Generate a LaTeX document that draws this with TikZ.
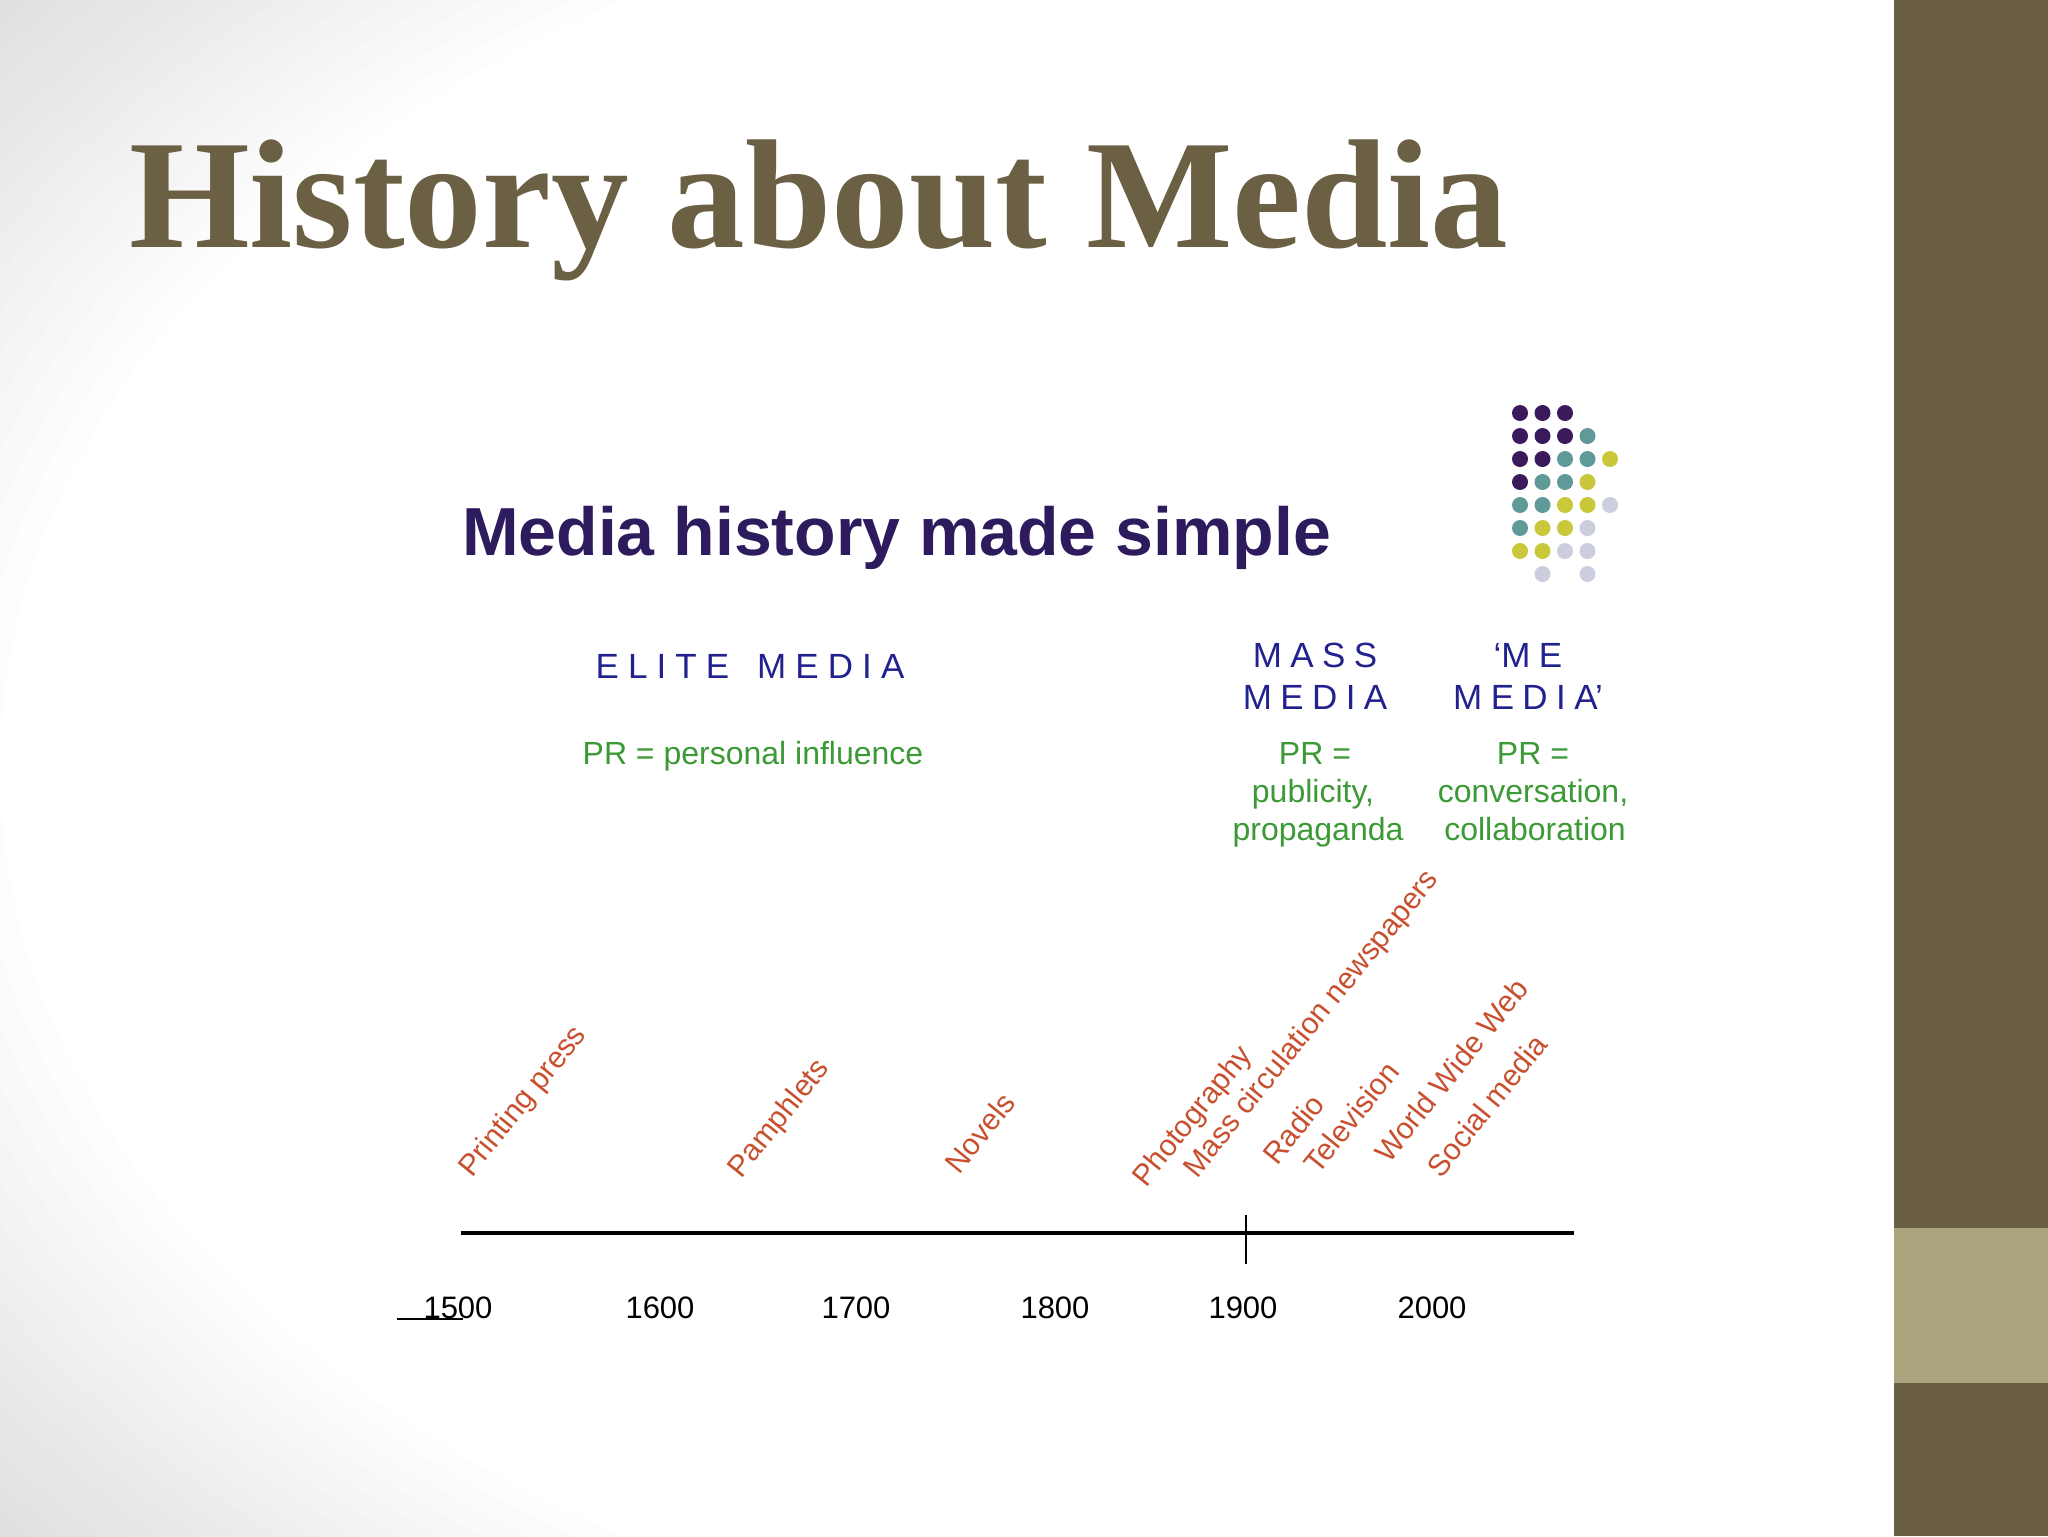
\documentclass[tikz,border=0pt]{standalone}
\usepackage{fontspec}
\setmainfont{Liberation Sans}
\newfontfamily\titlefont{Liberation Serif}
\definecolor{titlecol}{HTML}{6B5F44}
\definecolor{bardark}{HTML}{6A5F45}
\definecolor{barlight}{HTML}{AAA57F}
\definecolor{subcol}{HTML}{2D1B5E}
\definecolor{bluecol}{HTML}{22228F}
\definecolor{greencol}{HTML}{3B9A35}
\definecolor{redcol}{HTML}{C8502E}
\definecolor{dotP}{HTML}{3A1A5A}
\definecolor{dotT}{HTML}{5F9A98}
\definecolor{dotY}{HTML}{C8C83A}
\definecolor{dotL}{HTML}{CDCDE0}
\newcommand\lsp{\hspace{0.26em}}
\newcommand\lspm{\hspace{0.24em}}
\def\nodot{N}
\begin{document}
\begin{tikzpicture}[x=0.25pt,y=-0.25pt,
  every node/.style={inner sep=0pt, outer sep=0pt},
  eralabel/.style={anchor=base, text=bluecol, font=\fontsize{8.75}{10.5}\selectfont},
  prlabel/.style={anchor=base, text=greencol, font=\fontsize{8}{9.5}\selectfont},
  evt/.style={anchor=base west, rotate=51, text=redcol, font=\fontsize{7.5}{9}\selectfont},
  yearlabel/.style={anchor=base, text=black, font=\fontsize{7.75}{9}\selectfont}]
\useasboundingbox (0,0) rectangle (2048,1536);
\fill[white] (0,0) rectangle (1894,1536);
% soft vignette towards the left corners
\begin{scope}
\clip (0,0) rectangle (1894,1536);
\foreach \s in {1.00,1.02,...,1.40}{
  \fill[black, opacity=0.007, even odd rule] (-10,-10) rectangle (1894,1546)
    (1300,768) ellipse[x radius={1300*\s}, y radius={900*\s}];
}
\end{scope}
\fill[bardark] (1894,0) rectangle (2048,1228);
\fill[barlight] (1894,1228) rectangle (2048,1383);
\fill[bardark] (1894,1383) rectangle (2048,1536);

\node[anchor=base west, text=titlecol, font=\titlefont\bfseries\fontsize{38.8}{39}\selectfont] (title) at (129,247) {History about Media};
\node[anchor=base west, text=subcol, font=\bfseries\fontsize{17}{17}\selectfont] (sub) at (462,555) {Media history made simple};

% dot logo
\foreach \r/\row in {0/{P,P,P,N,N},1/{P,P,P,T,N},2/{P,P,T,T,Y},3/{P,T,T,Y,N},4/{T,T,Y,Y,L},5/{T,Y,Y,L,N},6/{Y,Y,L,L,N},7/{N,L,N,L,N}}{
  \foreach \dc[count=\i from 0] in \row {
    \ifx\dc\nodot\else
      \fill[dot\dc] ({1520+22.5*\i},{413+23*\r}) circle[radius=8];
    \fi
  }
}

\node[eralabel] (elite) at (750,678) {E\lsp L\lsp I\lsp T\lsp E\lsp\ \lsp M\lsp E\lsp D\lsp I\lsp A};
\node[prlabel] (pr1) at (753,764) {PR = personal influence};

\node[eralabel] (mass1) at (1315,667) {M\lspm A\lspm S\lspm S};
\node[eralabel] (mass2) at (1315,709) {M\lspm E\lspm D\lspm I\lspm A};
\node[eralabel] (me1) at (1528,667) {`M\lspm E};
\node[eralabel] (me2) at (1528,709) {M\lspm E\lspm D\lspm I\lspm A'};

\node[prlabel] (pr2a) at (1315,764) {PR =};
\node[prlabel] (pr2b) at (1313,802) {publicity,};
\node[prlabel] (pr2c) at (1318,840) {propaganda};
\node[prlabel] (pr3a) at (1533,764) {PR =};
\node[prlabel] (pr3b) at (1533,802) {conversation,};
\node[prlabel] (pr3c) at (1535,840) {collaboration};

\node[evt] (e1) at (472,1178) {Printing press};
\node[evt] (e2) at (741,1179) {Pamphlets};
\node[evt] (e3) at (959,1175) {Novels};
\node[evt] (e4) at (1146,1188) {Photography};
\node[evt] (e5) at (1197,1179) {Mass circulation newspapers};
\node[evt] (e6) at (1277,1166) {Radio};
\node[evt] (e7) at (1318,1175) {Television};
\node[evt] (e8) at (1389,1164) {World Wide Web};
\node[evt] (e9) at (1441,1179) {Social media};

\coordinate (axL) at (461,1233);
\coordinate (axR) at (1574,1233);
\coordinate (tkT) at (1246,1215);
\coordinate (tkB) at (1246,1264);
\draw[line width=1pt] (axL) -- (axR);
\draw[line width=0.5pt] (tkT) -- (tkB);

\node[yearlabel] (y1500) at (458,1318) {1500};
\coordinate (ulL) at (397,1319);
\coordinate (ulR) at (463,1319);
\draw[line width=0.4pt] (ulL) -- (ulR);
\node[yearlabel] (y1600) at (660,1318) {1600};
\node[yearlabel] (y1700) at (856,1318) {1700};
\node[yearlabel] (y1800) at (1055,1318) {1800};
\node[yearlabel] (y1900) at (1243,1318) {1900};
\node[yearlabel] (y2000) at (1432,1318) {2000};
\end{tikzpicture}
\end{document}
